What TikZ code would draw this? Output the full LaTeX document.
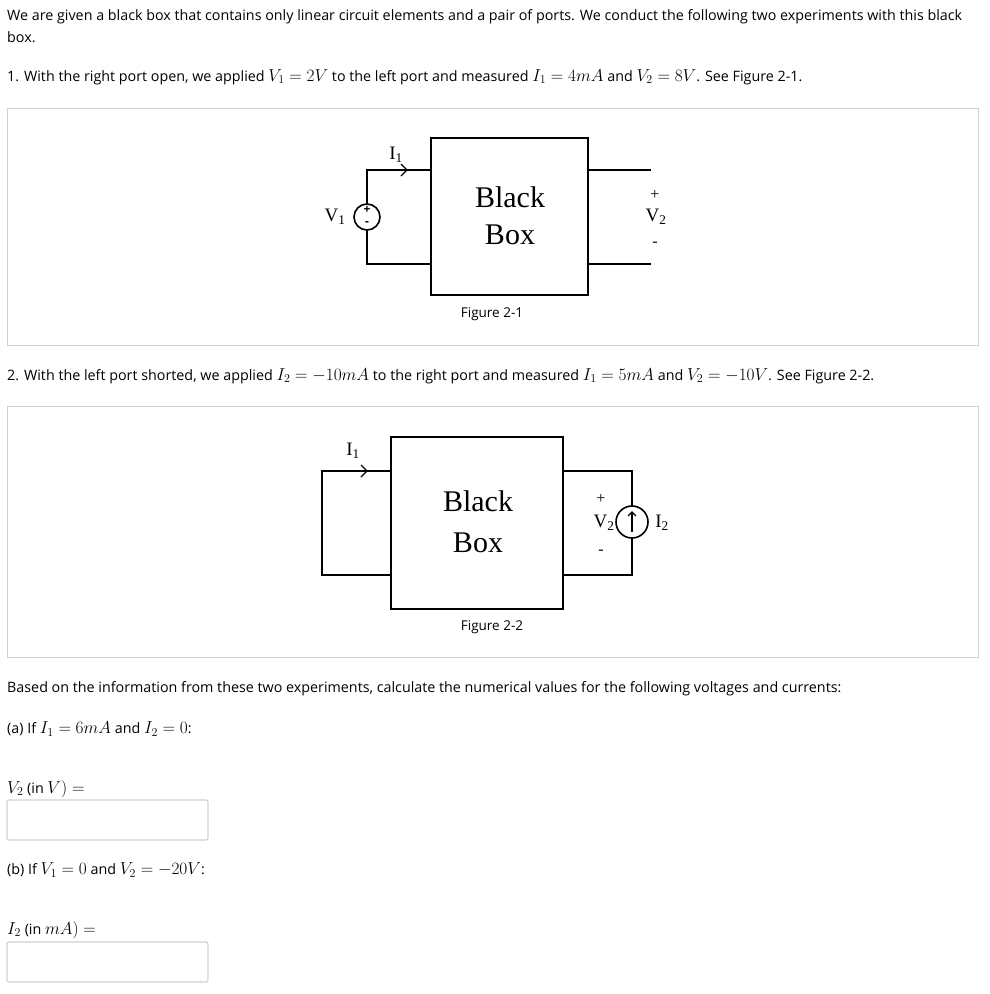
\documentclass[tikz,border=0pt]{standalone}
\usepackage{fontspec}
\setmainfont{Open Sans}
\newfontfamily\tms{Liberation Serif}
\usetikzlibrary{arrows.meta}
\newcommand\mm[1]{{\fontsize{16.5}{18}\selectfont$#1$}}
\begin{document}
\begin{tikzpicture}[x=1pt,y=-1pt,
  txt/.style={anchor=west,inner sep=0,font=\fontsize{14.3}{16}\selectfont},
  frame/.style={draw=black!18,line width=1},
  wire/.style={line width=2.2},
  lab/.style={inner sep=0,font=\tms\fontsize{19}{21}\selectfont},
  big/.style={inner sep=0,font=\tms\fontsize{30}{32}\selectfont},
  figcap/.style={inner sep=0,font=\fontsize{13.5}{15}\selectfont},
  inbox/.style={draw=black!18,line width=1.2,rounded corners=2}]
\useasboundingbox[fill=white] (0,0) rectangle (990,994);
\node[txt] (t1) at (7,17) {We are given a black box that contains only linear circuit elements and a pair of ports. We conduct the following two experiments with this black};
\node[txt] (t2) at (7,37) {box.};
\node[txt] (t3) at (7,77) {1. With the right port open, we applied \mm{V_1=2V} to the left port and measured \mm{I_1=4mA} and \mm{V_2=8V}. See Figure 2-1.};
\draw[frame] (7,108) rectangle (978,345);
% fig 1
\draw[wire] (431,138) rectangle (588,295);
\node[big] (bb1) at (510,197) {Black};
\node[big] (bx1) at (510,235) {Box};
\draw[line width=1.6] (367,217) circle (13);
\node[inner sep=0,font=\bfseries\fontsize{12}{12}\selectfont] (p1) at (367,210) {+};
\node[inner sep=0,font=\bfseries\fontsize{12}{12}\selectfont] (m1) at (367,224) {-};
\draw[wire] (367,204) -- (367,170) -- (431,170);
\draw[wire] (367,230) -- (367,264) -- (431,264);
\draw[line width=1.3] (401,164) -- (407,170) -- (401,176);
\node[lab] (v1) at (335,217) {V\textsubscript{1}};
\node[lab] (i1) at (396,155) {I\textsubscript{1}};
\draw[wire] (588,170) -- (651,170);
\draw[wire] (588,264) -- (651,264);
\node[lab] (pl2) at (655,195) {\fontsize{16}{16}\selectfont +};
\node[lab] (v2) at (656,217) {V\textsubscript{2}};
\node[lab] (mi2) at (655,244) {\fontsize{16}{16}\selectfont -};
\node[figcap] (c1) at (492,314) {Figure 2-1};
\node[txt] (t4) at (7,376) {2. With the left port shorted, we applied \mm{I_2=-10mA} to the right port and measured \mm{I_1=5mA} and \mm{V_2=-10V}. See Figure 2-2.};
\draw[frame] (7,406) rectangle (978,657);
% fig 2
\draw[wire] (391,437) rectangle (563,609);
\node[big] (bb2) at (478,501) {Black};
\node[big] (bx2) at (478,543) {Box};
\draw[wire] (391,471) -- (322,471) -- (322,575) -- (391,575);
\draw[line width=1.3] (361,465) -- (367,471) -- (361,477);
\node[lab] (i1b) at (353,451) {I\textsubscript{1}};
\draw[wire] (563,471) -- (632,471) -- (632,506);
\draw[wire] (563,575) -- (632,575) -- (632,538);
\draw[line width=1.6] (632,522) circle (16);
\draw[line width=1.3,-{Straight Barb[length=4pt,width=8pt]}] (632,532) -- (632,511);
\node[lab] (i2) at (662,523) {I\textsubscript{2}};
\node[lab] (v2b) at (604,523) {V\textsubscript{2}};
\node[lab] (pl3) at (601,499) {\fontsize{16}{16}\selectfont +};
\node[lab] (mi3) at (601,552) {\fontsize{16}{16}\selectfont -};
\node[figcap] (c2) at (492,627) {Figure 2-2};
\node[txt] (t5) at (7,689) {Based on the information from these two experiments, calculate the numerical values for the following voltages and currents:};
\node[txt] (t6) at (7,729) {(a) If \mm{I_1=6mA} and \mm{I_2=0}:};
\node[txt] (t7) at (7,789) {\mm{V_2} (in \mm{V)=}};
\draw[inbox] (7,800) rectangle (208,840);
\node[txt] (t8) at (7,870) {(b) If \mm{V_1=0} and \mm{V_2=-20V}:};
\node[txt] (t9) at (7,930) {\mm{I_2} (in \mm{mA)=}};
\draw[inbox] (7,942) rectangle (208,982);
\end{tikzpicture}
\end{document}
